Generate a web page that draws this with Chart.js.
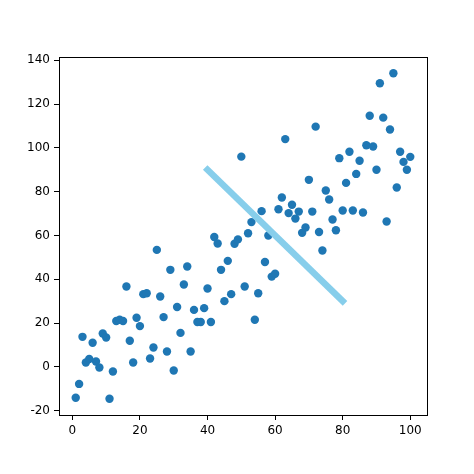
<!DOCTYPE html>
<html>
<head>
<meta charset="utf-8">
<script src="https://cdn.jsdelivr.net/npm/chart.js@4.4.0/dist/chart.umd.min.js"></script>
<style>
  html, body { margin: 0; padding: 0; background: #fff; }
  #wrap { width: 474px; height: 474px; }
</style>
</head>
<body>
<div id="wrap"><canvas id="chart" width="474" height="474"></canvas></div>
<script>
// scatter values, x = 1..100
var xValues = [];
for (var i = 1; i <= 100; i++) xValues.push(i);
var yValues = [
  -14.1, -7.8, 13.7, 2.0, 3.6, 11.0, 2.4, -0.3, 15.2, 13.4,
  -14.6, -2.1, 20.9, 21.5, 20.9, 36.7, 11.9, 2.0, 22.4, 18.6,
  33.2, 33.6, 3.8, 8.8, 53.4, 32.1, 22.7, 7.0, 44.3, -1.7,
  27.3, 15.5, 37.6, 45.8, 7.0, 26.0, 20.5, 20.5, 26.8, 35.8,
  20.5, 59.3, 56.3, 44.3, 30.0, 48.4, 33.2, 56.2, 58.2, 96.0,
  36.7, 61.0, 66.1, 21.5, 33.6, 71.1, 47.9, 60.0, 41.2, 42.5,
  72.0, 77.3, 104.0, 70.2, 74.0, 67.7, 70.9, 61.2, 63.6, 85.4,
  70.9, 109.7, 61.6, 53.1, 80.5, 76.4, 67.3, 62.4, 95.3, 71.4,
  84.0, 98.2, 71.4, 88.1, 94.1, 70.5, 101.2, 114.7, 100.6, 90.0,
  129.5, 113.8, 66.4, 108.4, 134.1, 81.9, 98.2, 93.6, 90.0, 95.9
];

// the straight line segment
var lineX = [40, 80];
var lineY = [90, 30];

var xTicks = [0, 20, 40, 60, 80, 100];
var yTicks = [-20, 0, 20, 40, 60, 80, 100, 120, 140];

var scatterPoints = xValues.map(function(x, i) { return { x: x, y: yValues[i] }; });
var linePoints = lineX.map(function(x, i) { return { x: x, y: lineY[i] }; });

var frameBox = {
  id: 'frameBox',
  afterDraw: function(chart) {
    var a = chart.chartArea, c = chart.ctx;
    c.save();
    c.strokeStyle = '#000';
    c.lineWidth = 1;
    c.strokeRect(Math.round(a.left) + 0.5, Math.round(a.top) + 0.5,
      Math.round(a.right - a.left), Math.round(a.bottom - a.top));
    c.restore();
  }
};

var tickFont = { family: 'DejaVu Sans', size: 12 };

new Chart(document.getElementById('chart'), {
  type: 'scatter',
  data: {
    datasets: [
      {
        data: linePoints,
        showLine: true,
        borderColor: '#87CEEB',
        borderWidth: 6.5,
        borderCapStyle: 'square',
        pointRadius: 0,
        order: 0
      },
      {
        data: scatterPoints,
        backgroundColor: '#1f77b4',
        borderColor: '#1f77b4',
        borderWidth: 0,
        pointRadius: 4.2,
        order: 1
      }
    ]
  },
  plugins: [frameBox],
  options: {
    responsive: false,
    animation: false,
    layout: { padding: { left: 0, top: 57, right: 47, bottom: 0 } },
    plugins: { legend: { display: false }, tooltip: { enabled: false } },
    scales: {
      x: {
        type: 'linear',
        min: -3.95,
        max: 104.95,
        afterBuildTicks: function(s) { s.ticks = xTicks.map(function(v) { return { value: v }; }); },
        afterFit: function(s) { s.height = 59; },
        grid: { drawOnChartArea: false, drawTicks: true, tickLength: 5, color: '#000' },
        border: { display: true, color: '#000' },
        ticks: { color: '#000', font: tickFont, padding: 4, maxRotation: 0 }
      },
      y: {
        type: 'linear',
        min: -22,
        max: 141.5,
        afterBuildTicks: function(s) { s.ticks = yTicks.map(function(v) { return { value: v }; }); },
        afterFit: function(s) { s.width = 59; },
        grid: { drawOnChartArea: false, drawTicks: true, tickLength: 5, color: '#000' },
        border: { display: true, color: '#000' },
        ticks: { color: '#000', font: tickFont, padding: 4 }
      }
    }
  }
});
</script>
</body>
</html>
